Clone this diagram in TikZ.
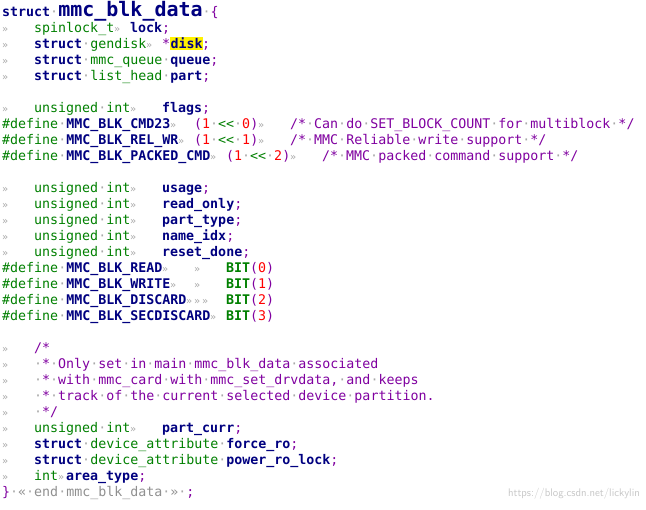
\documentclass[tikz,border=0pt]{standalone}
\usepackage{fontspec}
\setmonofont{DejaVu Sans Mono}
\definecolor{kwc}{HTML}{000080}
\definecolor{tyc}{HTML}{008000}
\definecolor{puc}{HTML}{8000A0}
\definecolor{nmc}{HTML}{FF0000}
\definecolor{cmc}{HTML}{8000A0}
\definecolor{dotc}{HTML}{A8A8A8}
\definecolor{grc}{HTML}{909090}
\newcommand\kw[1]{{\bfseries\color{kwc}#1}}
\newcommand\ty[1]{{\color{tyc}#1}}
\newcommand\pu[1]{{\color{puc}#1}}
\newcommand\nm[1]{{\color{nmc}#1}}
\newcommand\cm[1]{{\color{cmc}#1}}
\newcommand\gr[1]{{\color{grc}#1}}
\newcommand\D{{\color{dotc}·}}
\newcommand\at[4][]{\node[anchor=base west,inner sep=0pt,#1] at ({#2*8+2},{-(12+16*(#3-1)+4.5)}) {#4};}
\newcommand\tb[2]{\node[anchor=base west,inner sep=0pt,text=dotc,font=\ttfamily\fontsize{10}{10}\selectfont] at ({#1*8+2},{-(12+16*(#2-1)+4.5)}) {»};}
\begin{document}
\begin{tikzpicture}[x=1pt,y=1pt,font=\ttfamily\fontsize{13.3}{16}\selectfont]
\useasboundingbox[fill=white] (0,0) rectangle (646,-510);
% line 1
\at{0}{1}{\kw{struct}\D\kw{\fontsize{20}{20}\selectfont mmc\_blk\_data}\D\pu{\{}}
% 2-5
\tb{0}{2}\at{4}{2}{\ty{spinlock\_t}}\tb{14}{2}\at{16}{2}{\kw{lock}\pu{;}}
\tb{0}{3}\at{4}{3}{\kw{struct}\D\ty{gendisk}}\tb{18}{3}\at{20}{3}{\pu{*}}
\at[fill=yellow,inner xsep=0.5pt,inner ysep=1pt]{21}{3}{\kw{disk}}\at{25}{3}{\pu{;}}
\tb{0}{4}\at{4}{4}{\kw{struct}\D\ty{mmc\_queue}\D\kw{queue}\pu{;}}
\tb{0}{5}\at{4}{5}{\kw{struct}\D\ty{list\_head}\D\kw{part}\pu{;}}
% 7
\tb{0}{7}\at{4}{7}{\ty{unsigned}\D\ty{int}}\tb{16}{7}\at{20}{7}{\kw{flags}\pu{;}}
% 8-10
\at{0}{8}{\ty{\#define}\D\kw{MMC\_BLK\_CMD23}}\tb{21}{8}\at{24}{8}{\pu{(}\nm{1}\D\ty{<<}\D\nm{0}\pu{)}}\tb{32}{8}
\at{36}{8}{\cm{/*\D Can\D do\D SET\_BLOCK\_COUNT\D for\D multiblock\D */}}
\at{0}{9}{\ty{\#define}\D\kw{MMC\_BLK\_REL\_WR}}\tb{22}{9}\at{24}{9}{\pu{(}\nm{1}\D\ty{<<}\D\nm{1}\pu{)}}\tb{32}{9}
\at{36}{9}{\cm{/*\D MMC\D Reliable\D write\D support\D */}}
\at{0}{10}{\ty{\#define}\D\kw{MMC\_BLK\_PACKED\_CMD}}\tb{26}{10}\at{28}{10}{\pu{(}\nm{1}\D\ty{<<}\D\nm{2}\pu{)}}\tb{36}{10}
\at{40}{10}{\cm{/*\D MMC\D packed\D command\D support\D */}}
% 12-16
\tb{0}{12}\at{4}{12}{\ty{unsigned}\D\ty{int}}\tb{16}{12}\at{20}{12}{\kw{usage}\pu{;}}
\tb{0}{13}\at{4}{13}{\ty{unsigned}\D\ty{int}}\tb{16}{13}\at{20}{13}{\kw{read\_only}\pu{;}}
\tb{0}{14}\at{4}{14}{\ty{unsigned}\D\ty{int}}\tb{16}{14}\at{20}{14}{\kw{part\_type}\pu{;}}
\tb{0}{15}\at{4}{15}{\ty{unsigned}\D\ty{int}}\tb{16}{15}\at{20}{15}{\kw{name\_idx}\pu{;}}
\tb{0}{16}\at{4}{16}{\ty{unsigned}\D\ty{int}}\tb{16}{16}\at{20}{16}{\kw{reset\_done}\pu{;}}
% 17-20
\at{0}{17}{\ty{\#define}\D\kw{MMC\_BLK\_READ}}\tb{20}{17}\tb{24}{17}\at{28}{17}{\kw{\color{tyc}BIT}\pu{(}\nm{0}\pu{)}}
\at{0}{18}{\ty{\#define}\D\kw{MMC\_BLK\_WRITE}}\tb{21}{18}\tb{24}{18}\at{28}{18}{\kw{\color{tyc}BIT}\pu{(}\nm{1}\pu{)}}
\at{0}{19}{\ty{\#define}\D\kw{MMC\_BLK\_DISCARD}}\tb{23}{19}\tb{24}{19}\tb{25}{19}\at{28}{19}{\kw{\color{tyc}BIT}\pu{(}\nm{2}\pu{)}}
\at{0}{20}{\ty{\#define}\D\kw{MMC\_BLK\_SECDISCARD}}\tb{26}{20}\at{28}{20}{\kw{\color{tyc}BIT}\pu{(}\nm{3}\pu{)}}
% 22-26
\tb{0}{22}\at{4}{22}{\cm{/*}}
\tb{0}{23}\at{4}{23}{\cm{\D*\D Only\D set\D in\D main\D mmc\_blk\_data\D associated}}
\tb{0}{24}\at{4}{24}{\cm{\D*\D with\D mmc\_card\D with\D mmc\_set\_drvdata,\D and\D keeps}}
\tb{0}{25}\at{4}{25}{\cm{\D*\D track\D of\D the\D current\D selected\D device\D partition.}}
\tb{0}{26}\at{4}{26}{\cm{\D*/}}
% 27-30
\tb{0}{27}\at{4}{27}{\ty{unsigned}\D\ty{int}}\tb{16}{27}\at{20}{27}{\kw{part\_curr}\pu{;}}
\tb{0}{28}\at{4}{28}{\kw{struct}\D\ty{device\_attribute}\D\kw{force\_ro}\pu{;}}
\tb{0}{29}\at{4}{29}{\kw{struct}\D\ty{device\_attribute}\D\kw{power\_ro\_lock}\pu{;}}
\tb{0}{30}\at{4}{30}{\ty{int}}\tb{7}{30}\at{8}{30}{\kw{area\_type}\pu{;}}
% 31
\at{0}{31}{\pu{\}}\D\gr{«\D end\D mmc\_blk\_data\D »}\D\pu{;}}
% watermark
\node[anchor=base east,inner sep=0pt,text=black!22,font=\sffamily\fontsize{11}{11}\selectfont] at (640,-497) {https://blog.csdn.net/lickylin};
\end{tikzpicture}
\end{document}
